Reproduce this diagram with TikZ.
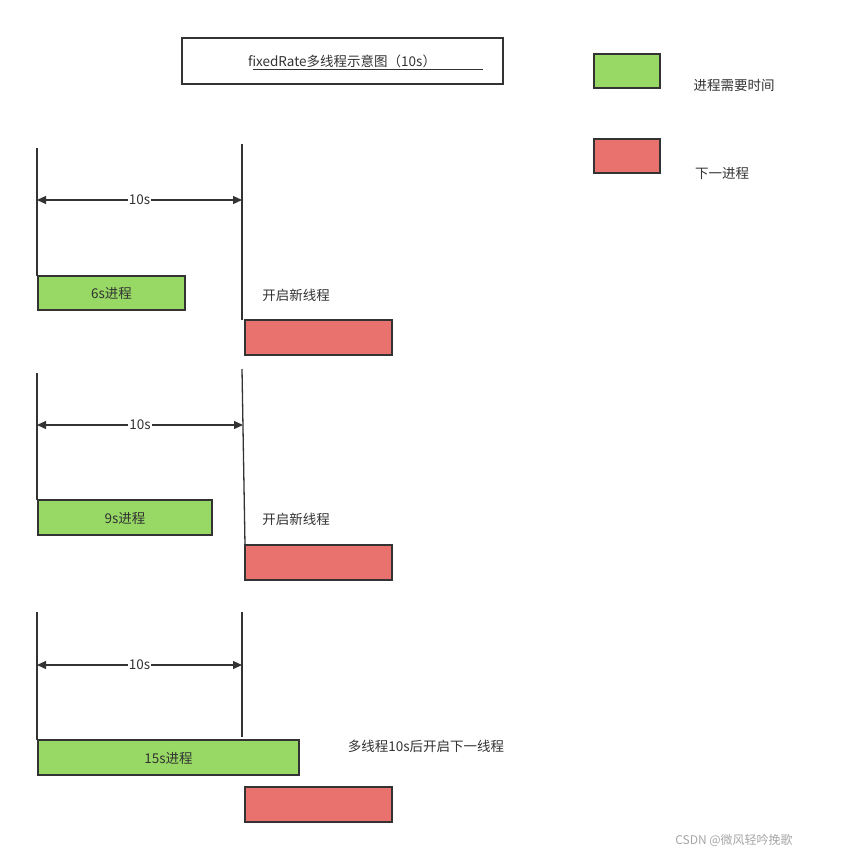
\documentclass[tikz,border=0pt]{standalone}
\usepackage{fontspec}
\setmainfont{Noto Sans CJK SC}
\usetikzlibrary{arrows.meta}
\definecolor{gr}{HTML}{97D964}
\definecolor{rd}{HTML}{EA726E}
\definecolor{ln}{HTML}{333333}
\begin{document}
\begin{tikzpicture}[x=1pt,y=-1pt,
  gbox/.style={draw=ln,fill=gr,line width=1.3pt,inner sep=0pt},
  rbox/.style={draw=ln,fill=rd,line width=1.3pt,inner sep=0pt},
  vl/.style={draw=ln,line width=1.3pt},
  dim/.style={draw=ln,line width=1.3pt,{Triangle[length=9pt,width=8pt]}-{Triangle[length=9pt,width=8pt]}},
  txt/.style={font=\fontsize{13.5}{16}\selectfont,text=ln,inner sep=0pt}]
\useasboundingbox[fill=white] (0,0) rectangle (845,859);
% title
\draw[vl,line width=1.5pt] (182,38) rectangle (503,84);
\node[txt] (title) at (342,61) {fixedRate多线程示意图（10s）};
\draw[ln,line width=1pt] (253,70) -- (483,70);
% legend
\draw[gbox] (594,54) rectangle (660,88);
\node[txt] (lg1) at (734,85) {进程需要时间};
\draw[rbox] (594,139) rectangle (660,173);
\node[txt] (lg2) at (722,173) {下一进程};
% section 1
\coordinate (a1) at (37,148); \coordinate (a2) at (37,276);
\coordinate (b1) at (242,144); \coordinate (b2) at (242,320);
\draw[vl] (a1) -- (a2); \draw[vl] (b1) -- (b2);
\coordinate (d1) at (37,200); \coordinate (d2) at (242,200);
\draw[dim] (d1) -- node[txt,fill=white,inner sep=1pt] {10s} (d2);
\draw[gbox] (38,276) rectangle (185,310); \node[txt] at (111.5,293) {6s进程};
\node[txt] at (296,295) {开启新线程};
\draw[rbox] (245,320) rectangle (392,355);
% section 2
\coordinate (e1) at (37,373); \coordinate (e2) at (37,500);
\coordinate (f1) at (242,369); \coordinate (f2) at (245,545);
\draw[vl] (e1) -- (e2); \draw[vl] (f1) -- (f2);
\coordinate (g1) at (37,425); \coordinate (g2) at (243,425);
\draw[dim] (g1) -- node[txt,fill=white,inner sep=1pt] {10s} (g2);
\draw[gbox] (38,500) rectangle (212,535); \node[txt] at (125,518) {9s进程};
\node[txt] at (296,519) {开启新线程};
\draw[rbox] (245,545) rectangle (392,580);
% section 3
\coordinate (h1) at (37,612); \coordinate (h2) at (37,740);
\coordinate (i1) at (242,612); \coordinate (i2) at (242,737);
\draw[vl] (h1) -- (h2); \draw[vl] (i1) -- (i2);
\coordinate (j1) at (37,665); \coordinate (j2) at (242,665);
\draw[dim] (j1) -- node[txt,fill=white,inner sep=1pt] {10s} (j2);
\draw[gbox] (38,740) rectangle (299,775); \node[txt] at (168.5,758) {15s进程};
\node[txt] at (426,746) {多线程10s后开启下一线程};
\draw[rbox] (245,787) rectangle (392,822);
% watermark
\node[txt,text=gray!70,font=\fontsize{12}{14}\selectfont] (wm) at (734,840) {CSDN @微风轻吟挽歌};
\end{tikzpicture}
\end{document}
